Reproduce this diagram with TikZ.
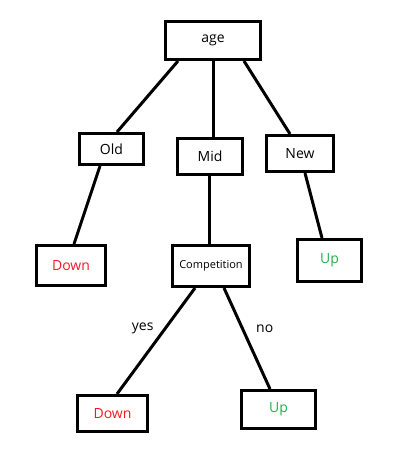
\documentclass[tikz,border=0pt]{standalone}
\usepackage{fontspec}
\setmainfont{Open Sans}
\usepackage{xcolor}
\definecolor{down}{RGB}{237,28,36}
\definecolor{up}{RGB}{34,177,76}
\usetikzlibrary{positioning}

\begin{document}
\begin{tikzpicture}[x=1pt, y=-1pt,
  box/.style={draw, line width=3pt, inner sep=0pt, font=\fontsize{14}{16}\selectfont},
  edge/.style={line width=3pt}]

  \useasboundingbox (0,0) rectangle (405,459);

  % root
  \node[box, minimum width=95pt, minimum height=38pt] (age) at (213,40.5) {age};

  % first level
  \node[box, minimum width=64pt, minimum height=31pt] (old) at (111.5,149) {Old};
  \node[box, minimum width=65pt, minimum height=36pt] (mid) at (210,156.5) {Mid};
  \node[box, minimum width=67pt, minimum height=36pt] (new) at (300,153.5) {New};

  % second level
  \node[box, minimum width=69pt, minimum height=40pt, text=down] (down) at (71,265.5) {Down};
  \node[box, minimum width=77pt, minimum height=41pt, font=\fontsize{11}{13}\selectfont] (comp) at (211,266) {Competition};
  \node[box, minimum width=64pt, minimum height=42pt, text=up] (up) at (329.5,260.5) {Up};

  % leaves
  \node[box, minimum width=70pt, minimum height=36pt, text=down] (yesdown) at (112.5,413.5) {Down};
  \node[box, minimum width=74pt, minimum height=38pt, text=up] (noup) at (278.5,409.5) {Up};

  % edges
  \draw[edge] ([xshift=-35pt]age.south) -- ([xshift=5.5pt]old.north);
  \draw[edge] (age.south) -- ([xshift=3pt]mid.north);
  \draw[edge] ([xshift=31pt]age.south) -- ([xshift=-10pt]new.north);
  \draw[edge] ([xshift=-11.5pt]old.south) -- ([xshift=3pt]down.north);
  \draw[edge] ([xshift=-1pt]mid.south) -- ([xshift=-2pt]comp.north);
  \draw[edge] ([xshift=5pt]new.south) -- ([xshift=-7.5pt]up.north);
  \draw[edge] ([xshift=-16pt]comp.south) -- node[pos=0.38, left=7pt, font=\fontsize{14}{16}\selectfont] (yes) {yes} ([xshift=4.5pt]yesdown.north);
  \draw[edge] ([xshift=13pt]comp.south) -- node[pos=0.4, right=9pt, font=\fontsize{14}{16}\selectfont] (no) {no} ([xshift=-8.5pt]noup.north);

\end{tikzpicture}
\end{document}
